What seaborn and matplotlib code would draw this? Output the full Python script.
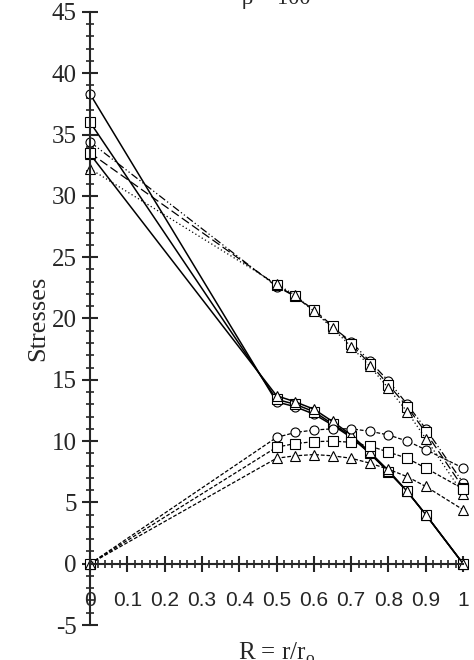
import matplotlib
matplotlib.use("Agg")
import matplotlib.pyplot as plt
import seaborn as sns
import numpy as np
from matplotlib.ticker import MultipleLocator

sns.set_style("ticks")
plt.rcParams['font.family'] = ['Liberation Serif', 'DejaVu Serif']
plt.rcParams['axes.unicode_minus'] = False

R = [0, 0.5, 0.55, 0.6, 0.65, 0.7, 0.75, 0.8, 0.85, 0.9, 1.0]
rad_c = [38.3, 13.2, 12.8, 12.2, 11.3, 10.3, 9.0, 7.5, 5.9, 4.0, 0.0]
rad_s = [36.0, 13.4, 13.0, 12.4, 11.4, 10.4, 9.0, 7.5, 5.9, 4.0, 0.0]
rad_t = [33.4, 13.7, 13.2, 12.6, 11.6, 10.5, 9.1, 7.6, 5.9, 4.0, 0.0]
hoop_c = [34.4, 22.6, 21.8, 20.6, 19.3, 18.1, 16.5, 14.9, 13.0, 11.0, 6.6]
hoop_s = [33.5, 22.7, 21.8, 20.7, 19.4, 17.9, 16.3, 14.6, 12.8, 10.7, 6.2]
hoop_t = [32.2, 22.8, 21.9, 20.6, 19.2, 17.7, 16.1, 14.3, 12.4, 10.2, 5.7]
sh_c = [0, 10.3, 10.7, 10.9, 11.0, 11.0, 10.8, 10.5, 10.0, 9.3, 7.8]
sh_s = [0, 9.5, 9.8, 9.95, 10.0, 9.9, 9.6, 9.1, 8.6, 7.8, 6.1]
sh_t = [0, 8.6, 8.8, 8.9, 8.8, 8.6, 8.2, 7.7, 7.1, 6.3, 4.4]

fig = plt.figure(figsize=(4.74, 6.6), dpi=100)
ax = fig.add_axes([0.19, 0.053, 0.787, 0.929])

mk = dict(markersize=6.5, markerfacecolor='white', markeredgecolor='black', markeredgewidth=0.8)
for y, m in [(rad_c, 'o'), (rad_s, 's'), (rad_t, '^')]:
    sns.lineplot(x=R, y=y, ax=ax, color='black', lw=1.1, marker=m, **mk)
for y, m, ls in [(hoop_c, 'o', (0, (6, 2, 1, 2, 1, 2))), (hoop_s, 's', (0, (7, 3))), (hoop_t, '^', (0, (1, 2)))]:
    sns.lineplot(x=R, y=y, ax=ax, color='black', lw=0.9, marker=m, linestyle=ls, **mk)
for y, m in [(sh_c, 'o'), (sh_s, 's'), (sh_t, '^')]:
    sns.lineplot(x=R, y=y, ax=ax, color='black', lw=0.9, marker=m, linestyle=(0, (3, 1.5)), **mk)

ax.set_xlim(0, 1.0)
ax.set_ylim(-5, 45)
for l in ax.lines:
    l.set_clip_on(False)
ax.spines['left'].set_position(('data', 0))
ax.spines['bottom'].set_position(('data', 0))
ax.spines['top'].set_visible(False)
ax.spines['right'].set_visible(False)
for s in ['left', 'bottom']:
    ax.spines[s].set_linewidth(1.5)
ax.yaxis.set_major_locator(MultipleLocator(5))
ax.yaxis.set_minor_locator(MultipleLocator(1))
ax.xaxis.set_major_locator(MultipleLocator(0.1))
ax.xaxis.set_minor_locator(MultipleLocator(0.02))
ax.tick_params(which='major', direction='inout', length=12, width=1.5, labelsize=18)
ax.tick_params(which='minor', direction='inout', length=6, width=1.2)
ax.tick_params(axis='x', pad=14, labelsize=15)
ax.set_xticks(np.round(np.arange(0, 1.01, 0.1), 1))
ax.set_xticklabels(['0'] + [f'{v:.1f}' for v in np.arange(0.1, 0.95, 0.1)] + ['1'], family='Liberation Sans')
ax.set_xlabel('R = r/r$_\\mathregular{o}$', fontsize=18, labelpad=2)
ax.xaxis.set_label_coords(0.5, -0.025)
ax.set_ylabel('Stresses', fontsize=19, labelpad=2)
ax.text(0.5, 45.2, 'β = 100', fontsize=16, ha='center', va='bottom')
fig.savefig('out.png', dpi=100)
